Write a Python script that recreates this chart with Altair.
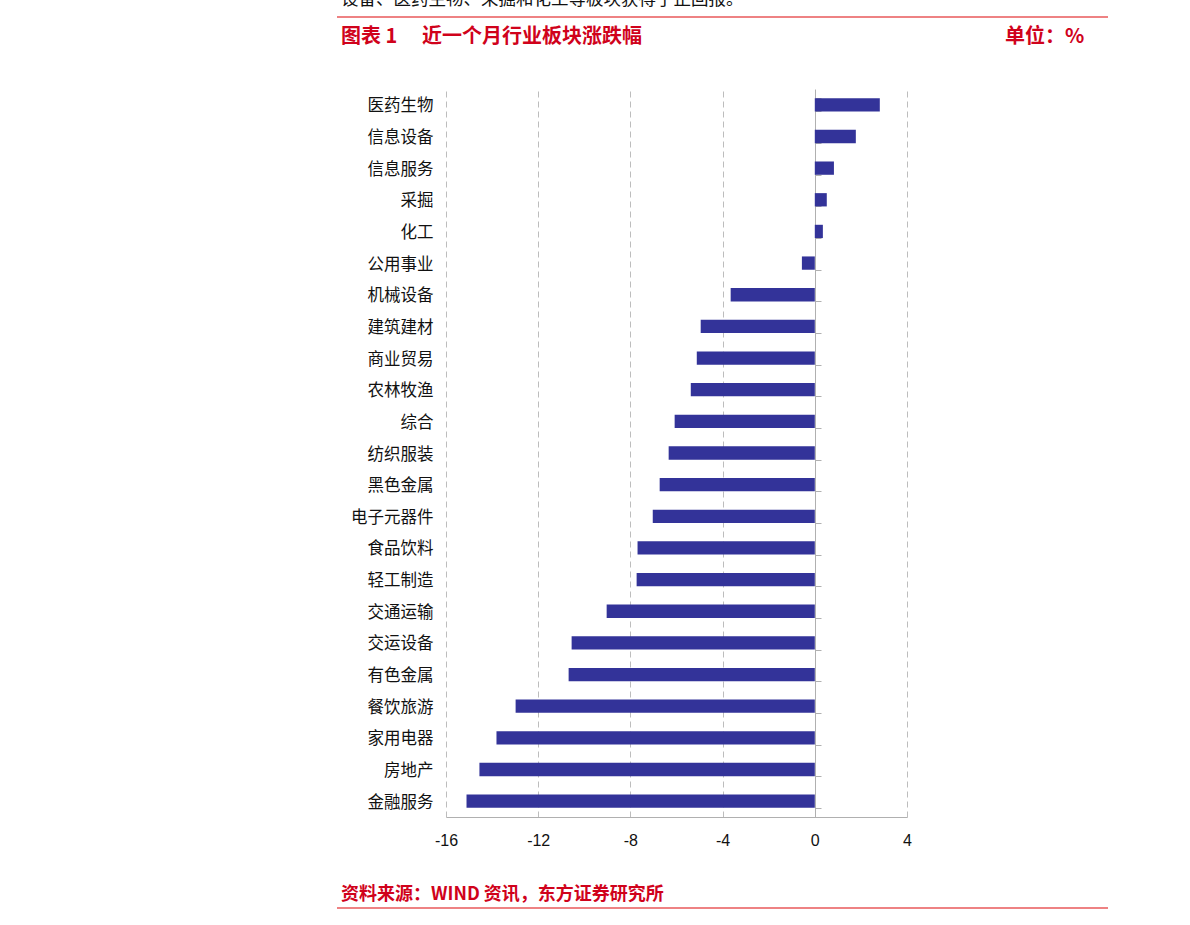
import altair as alt
import pandas as pd

# Monthly change by industry sector (%)
sectors = ["医药生物", "信息设备", "信息服务", "采掘", "化工", "公用事业", "机械设备",
           "建筑建材", "商业贸易", "农林牧渔", "综合", "纺织服装", "黑色金属", "电子元器件",
           "食品饮料", "轻工制造", "交通运输", "交运设备", "有色金属", "餐饮旅游",
           "家用电器", "房地产", "金融服务"]
changes = [2.82, 1.78, 0.83, 0.52, 0.35, -0.56, -3.65, -4.95, -5.12, -5.38, -6.08,
           -6.34, -6.73, -7.03, -7.69, -7.73, -9.03, -10.55, -10.68, -12.98, -13.81,
           -14.55, -15.11]
x_ticks = [-16, -12, -8, -4, 0, 4]

intro_text = "设备、医药生物、采掘和化工等板块获得了正回报。"
fig_label = "图表 1"
fig_title = "近一个月行业板块涨跌幅"
unit_text = "单位：%"
source_text = "资料来源：WIND 资讯，东方证券研究所"

df = pd.DataFrame({"sector": sectors, "change": changes})

RED = "#d0021b"
LINE_RED = "#e8585a"
CJK = "Noto Sans CJK SC"

y_scale = alt.Scale(domain=sectors, paddingInner=0.58, paddingOuter=0.29)
x_scale = alt.Scale(domain=[-16, 4], nice=False, zero=False)
x_axis = alt.Axis(values=x_ticks, title=None, grid=True, gridDash=[6, 4],
                  gridColor="#bdbdbd", gridWidth=1, ticks=False, labelFlush=False,
                  labelExpr="datum.value < 0 ? '-' + abs(datum.value) : '' + datum.value",
                  domainColor="#b0b0b0", labelFont="Liberation Sans",
                  labelFontSize=16, labelColor="#111111", labelPadding=15)

bars = alt.Chart(df).mark_bar(color="#333399").encode(
    x=alt.X("change:Q", scale=x_scale, axis=x_axis),
    y=alt.Y("sector:N", sort=sectors, scale=y_scale,
            axis=alt.Axis(title=None, domain=False, ticks=False, labelFont=CJK,
                          labelFontSize=16.5, labelColor="#111111", labelPadding=13,
                          labelOffset=1.5)),
)

# zero line with tick marks between categories
zero_axis = alt.Chart(df).mark_bar(opacity=0).encode(
    x=alt.X("change:Q", scale=x_scale, axis=x_axis),
    y=alt.Y("sector:N", sort=sectors, scale=y_scale,
            axis=alt.Axis(orient="right", offset=-92, title=None, labels=False,
                          domain=True, domainColor="#b0b0b0", ticks=True,
                          tickBand="extent", tickSize=6, tickColor="#b0b0b0")),
)


def text_layer(txt, x, y, size, color, bold=True, font=CJK, align="left", baseline="middle"):
    return alt.Chart(pd.DataFrame({"t": [txt]})).mark_text(
        align=align, baseline=baseline, fontSize=size, font=font,
        fontWeight="bold" if bold else "normal", color=color,
    ).encode(x=alt.value(x), y=alt.value(y), text="t:N")


def hline(x1, x2, y, color):
    return alt.Chart(pd.DataFrame({"a": [0]})).mark_rule(color=color, strokeWidth=1.3).encode(
        x=alt.value(x1), x2=alt.value(x2), y=alt.value(y))


OX, OY = 446, 89  # plot origin on the page

decor = alt.layer(
    text_layer(intro_text, 341 - OX, 9 - OY, 17.5, "#111111", bold=False, baseline="bottom"),
    hline(337 - OX, 1108 - OX, 17 - OY, LINE_RED),
    text_layer(fig_label, 341 - OX, 37 - OY, 20, RED),
    text_layer(fig_title, 422 - OX, 37 - OY, 20, RED),
    text_layer(unit_text, 1005 - OX, 37 - OY, 20, RED),
    text_layer(source_text, 341 - OX, 895 - OY, 18, RED),
    hline(337 - OX, 1108 - OX, 908 - OY, LINE_RED),
)

chart = alt.layer(bars, zero_axis, decor).resolve_axis(y="independent").properties(
    width=907 - OX,
    height=817 - OY,
    autosize=alt.AutoSizeParams(type="none"),
    padding={"left": OX, "top": OY, "right": 1190 - 907, "bottom": 925 - 817},
).configure(background="white").configure_view(stroke=None)

chart.save("out.html", embed_options={"renderer": "svg", "actions": False})
